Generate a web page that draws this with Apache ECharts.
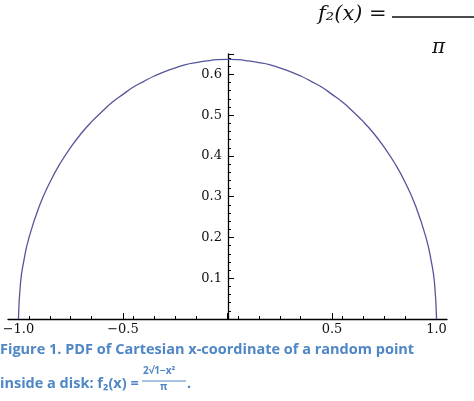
<!DOCTYPE html>
<html><head><meta charset="utf-8">
<script src="https://cdn.jsdelivr.net/npm/echarts@6/dist/echarts.min.js"></script>
<style>html,body{margin:0;padding:0;background:#fff}#c{width:474px;height:401px}</style>
</head><body><div id="c"></div>
<script>
const xs = [-1,-0.99,-0.975,-0.95,-0.9,-0.85,-0.8,-0.75,-0.7,-0.65,-0.6,-0.55,-0.5,-0.45,-0.4,-0.35,-0.3,-0.25,-0.2,-0.15,-0.1,-0.05,0,0.05,0.1,0.15,0.2,0.25,0.3,0.35,0.4,0.45,0.5,0.55,0.6,0.65,0.7,0.75,0.8,0.85,0.9,0.95,0.975,0.99,1];
const ys = [0,0.090,0.141,0.199,0.277,0.335,0.382,0.421,0.455,0.484,0.509,0.532,0.551,0.569,0.583,0.596,0.607,0.616,0.624,0.629,0.633,0.636,0.637,0.636,0.633,0.629,0.624,0.616,0.607,0.596,0.583,0.569,0.551,0.532,0.509,0.484,0.455,0.421,0.382,0.335,0.277,0.199,0.141,0.090,0];
const xTicks = {'-1':'\u22121.0','-0.5':'\u22120.5','0.5':'0.5','1':'1.0'};
const yTicks = ['0.1','0.2','0.3','0.4','0.5','0.6'];
const chart = echarts.init(document.getElementById('c'));
const serif = 'DejaVu Serif';
const cap = '#4f86c6';
chart.setOption({
  animation:false,
  grid:{left:8,width:439,top:54,height:265,containLabel:false,outerBoundsMode:'none'},
  xAxis:{type:'value',min:-1.05,max:1.05,interval:0.5,
    axisLine:{onZero:false,lineStyle:{color:'#000',width:1.3}},
    axisTick:{inside:true,length:6,lineStyle:{color:'#000'},customValues:[-1,-0.5,0,0.5,1]},
    minorTick:{show:true,splitNumber:5,length:3,lineStyle:{color:'#000'}},
    splitLine:{show:false},
    axisLabel:{fontFamily:serif,fontSize:13,color:'#111',margin:4,
      customValues:[-1,-0.5,0.5,1],formatter:v=>xTicks[String(v)]||''}},
  yAxis:{type:'value',min:0,max:0.65,interval:0.1,position:'left',offset:-220,
    axisLine:{onZero:false,lineStyle:{color:'#000',width:1.3}},
    axisTick:{inside:true,length:6,lineStyle:{color:'#000'}},
    minorTick:{show:true,splitNumber:5,length:3,lineStyle:{color:'#000'}},
    splitLine:{show:false},
    axisLabel:{fontFamily:serif,fontSize:13,color:'#111',margin:6,
      customValues:yTicks.map(Number),formatter:v=>v.toFixed(1)}},
  series:[{type:'line',data:xs.map((x,i)=>[x,ys[i]]),smooth:true,showSymbol:false,
    lineStyle:{color:'#55559a',width:1.3}}],
  graphic:[
    {type:'text',left:318,top:4,style:{text:'f\u2082(x) =',font:'italic 21px "DejaVu Serif"',fill:'#111'}},
    {type:'line',shape:{x1:392,y1:17,x2:474,y2:17},style:{stroke:'#111',lineWidth:1.3}},
    {type:'text',left:432,top:38,style:{text:'\u03c0',font:'italic 20px "DejaVu Serif"',fill:'#111'}},
    {type:'text',left:0,top:342,style:{text:'Figure 1. PDF of Cartesian x-coordinate of a random point',font:'bold 14.5px "Open Sans"',fill:cap}},
    {type:'text',left:0,top:376,style:{text:'inside a disk: f\u2082(x) =',font:'bold 14.5px "Open Sans"',fill:cap}},
    {type:'text',left:143,top:366,style:{text:'2\u221a1\u2212x\u00b2',font:'bold 10px "Open Sans"',fill:cap}},
    {type:'line',shape:{x1:142,y1:381,x2:186,y2:381},style:{stroke:cap,lineWidth:1}},
    {type:'text',left:160,top:382,style:{text:'\u03c0',font:'bold 10px "Open Sans"',fill:cap}},
    {type:'text',left:187,top:376,style:{text:'.',font:'bold 14.5px "Open Sans"',fill:cap}}
  ]
});
</script></body></html>
